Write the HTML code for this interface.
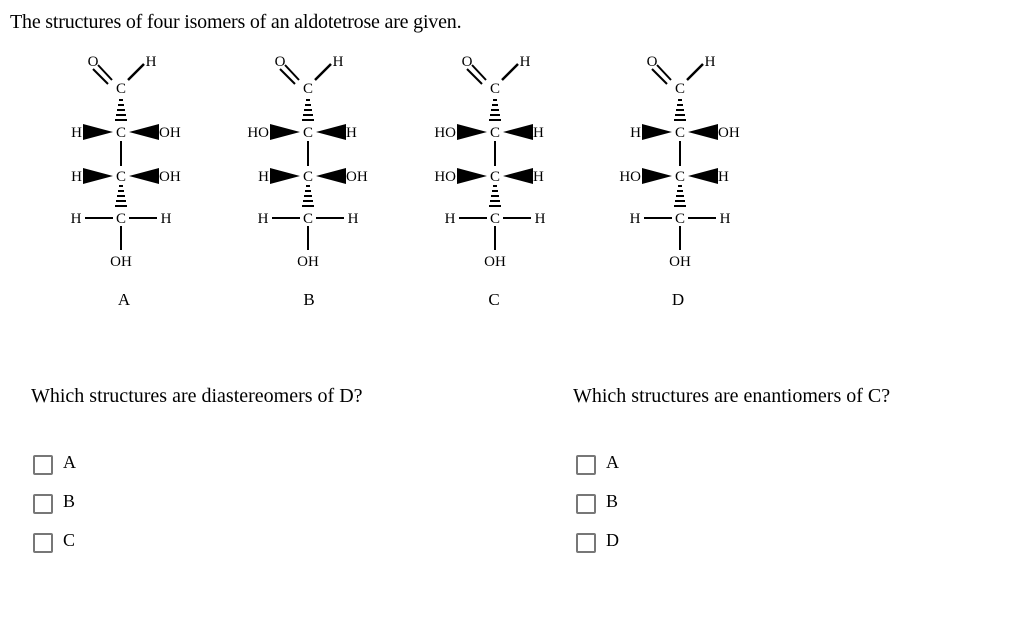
<!DOCTYPE html>
<html><head><style>
body{margin:0;width:1024px;height:628px;background:#fff;font-family:"Liberation Serif",serif;overflow:hidden;position:relative}
.t{position:absolute;color:#000;white-space:nowrap}
.cb{position:absolute;width:16px;height:16px;border:2px solid #777;border-radius:2px}
</style></head><body>
<div class="t" style="left:10px;top:11px;font-size:20px;letter-spacing:-0.2px">The structures of four isomers of an aldotetrose are given.</div>
<svg width="1024" height="340" style="position:absolute;left:0;top:0" font-family="Liberation Serif,serif" font-size="15">
<defs>
<g id="hash1" stroke="#000" stroke-width="2">
<line x1="-2" y1="100" x2="2" y2="100"/><line x1="-3" y1="105" x2="3" y2="105"/><line x1="-4" y1="110" x2="4" y2="110"/><line x1="-5" y1="115" x2="5" y2="115"/><line x1="-6" y1="120" x2="6" y2="120"/>
</g>
<g id="skel" stroke="#000" fill="none">
<line x1="-23" y1="65" x2="-9" y2="80" stroke-width="2"/><line x1="-28" y1="69" x2="-13" y2="84" stroke-width="2"/>
<line x1="23" y1="64" x2="7" y2="80" stroke-width="2.5"/>
<use href="#hash1"/>
<use href="#hash1" transform="translate(0,86)"/>
<line x1="0" y1="141" x2="0" y2="166" stroke-width="2"/>
<line x1="0" y1="226" x2="0" y2="250" stroke-width="2"/>
<line x1="-36" y1="218" x2="-8" y2="218" stroke-width="2"/>
<line x1="8" y1="218" x2="36" y2="218" stroke-width="2"/>
<polygon points="-38,124 -8,132 -38,140" fill="#000" stroke="none"/>
<polygon points="38,124 8,132 38,140" fill="#000" stroke="none"/>
<polygon points="-38,168 -8,176 -38,184" fill="#000" stroke="none"/>
<polygon points="38,168 8,176 38,184" fill="#000" stroke="none"/>
</g>
<g id="lbl" text-anchor="middle">
<text x="-28" y="66">O</text><text x="30" y="66">H</text>
<text x="0" y="93">C</text><text x="0" y="137">C</text><text x="0" y="181">C</text><text x="0" y="223">C</text>
<text x="-45" y="223">H</text><text x="45" y="223">H</text>
<text x="0" y="266">OH</text>
</g>
</defs>
<g transform="translate(121,0)"><use href="#skel"/><use href="#lbl"/>
<text x="-39" y="137" text-anchor="end">H</text><text x="38" y="137">OH</text>
<text x="-39" y="181" text-anchor="end">H</text><text x="38" y="181">OH</text></g>
<g transform="translate(308,0)"><use href="#skel"/><use href="#lbl"/>
<text x="-39" y="137" text-anchor="end">HO</text><text x="38" y="137">H</text>
<text x="-39" y="181" text-anchor="end">H</text><text x="38" y="181">OH</text></g>
<g transform="translate(495,0)"><use href="#skel"/><use href="#lbl"/>
<text x="-39" y="137" text-anchor="end">HO</text><text x="38" y="137">H</text>
<text x="-39" y="181" text-anchor="end">HO</text><text x="38" y="181">H</text></g>
<g transform="translate(680,0)"><use href="#skel"/><use href="#lbl"/>
<text x="-39" y="137" text-anchor="end">H</text><text x="38" y="137">OH</text>
<text x="-39" y="181" text-anchor="end">HO</text><text x="38" y="181">H</text></g>
<g font-size="17" text-anchor="middle"><text x="124" y="305">A</text><text x="309" y="305">B</text><text x="494" y="305">C</text><text x="678" y="305">D</text></g>
</svg>
<div class="t" style="left:31px;top:385px;font-size:20px">Which structures are diastereomers of D?</div>
<div class="t" style="left:573px;top:385px;font-size:20px">Which structures are enantiomers of C?</div>
<div class="cb" style="left:33px;top:455px"></div><div class="t" style="left:63px;top:452px;font-size:18px">A</div>
<div class="cb" style="left:33px;top:494px"></div><div class="t" style="left:63px;top:491px;font-size:18px">B</div>
<div class="cb" style="left:33px;top:533px"></div><div class="t" style="left:63px;top:530px;font-size:18px">C</div>
<div class="cb" style="left:576px;top:455px"></div><div class="t" style="left:606px;top:452px;font-size:18px">A</div>
<div class="cb" style="left:576px;top:494px"></div><div class="t" style="left:606px;top:491px;font-size:18px">B</div>
<div class="cb" style="left:576px;top:533px"></div><div class="t" style="left:606px;top:530px;font-size:18px">D</div>
</body></html>
